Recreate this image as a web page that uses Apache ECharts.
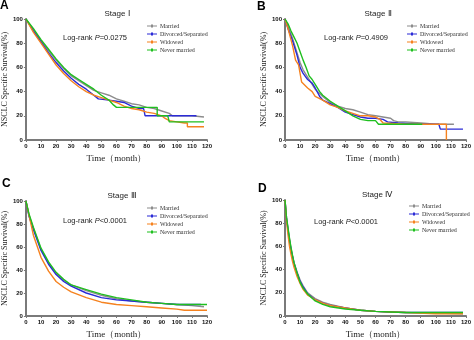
<!DOCTYPE html>
<html>
<head>
<meta charset="utf-8">
<script src="https://cdn.jsdelivr.net/npm/echarts@6/dist/echarts.min.js"></script>
<style>html,body{margin:0;padding:0;background:#fff}#c{width:474px;height:340px}</style>
</head>
<body>
<div id="c"></div>
<script>
var groups = ['Married', 'Divorced/Separated', 'Widowed', 'Never married'];
var stages = ['Stage Ⅰ', 'Stage Ⅱ', 'Stage Ⅲ', 'Stage Ⅳ'];
var pValues = ['P=0.0275', 'P=0.4909', 'P<0.0001', 'P<0.0001'];
var panelLetters = ['A', 'B', 'C', 'D'];
var xTicks = [0, 10, 20, 30, 40, 50, 60, 70, 80, 90, 100, 110, 120];
var yTicks = [0, 20, 40, 60, 80, 100];

// Stage I
var s1Married = [[0,100],[5,91],[10,82],[15,74],[20,66],[25,59],[30,53],[35,49],[40,45],[45,41],[50,39],[55,37],[60,34],[65,32],[70,30],[75,29],[80,27],[85,26],[90,24],[95,22],[97,20],[105,20],[110,20],[118,19]];
var s1Divorced = [[0,100],[5,90],[10,81],[15,72],[20,64],[25,57],[30,51],[35,46],[40,42],[45,37],[48,34],[55,33],[60,32],[65,31],[70,28],[75,26],[78,26],[79,20],[113,20]];
var s1Widowed = [[0,100],[5,89],[10,80],[15,71],[20,62],[25,55],[30,49],[35,44],[40,40],[45,37],[50,35],[55,33],[60,31],[65,28],[70,26],[75,25],[80,23],[85,22],[90,20],[92,18],[95,16],[100,15],[105,14],[107,14],[107,11],[118,11]];
var s1Never = [[0,100],[5,92],[10,83],[15,75],[20,67],[25,60],[30,54],[35,50],[40,46],[45,42],[50,37],[55,33],[58,29],[60,27],[70,27],[80,27],[87,27],[87,20],[94,20],[95,15],[118,15]];

// Stage II
var s2Married = [[0,100],[2,94],[5,84],[8,72],[10,64],[12,58],[15,52],[18,46],[20,42],[25,36],[30,31],[35,28],[40,26],[45,25],[50,23],[55,21],[60,20],[65,19],[70,18],[72,16],[75,15],[80,15],[90,14],[100,13],[112,13]];
var s2Divorced = [[0,100],[2,92],[5,82],[8,70],[10,60],[12,55],[15,50],[18,47],[20,43],[23,36],[25,33],[30,30],[35,27],[40,23],[45,21],[50,19],[55,18],[60,18],[65,17],[68,15],[75,14],[90,13],[102,13],[103,9],[118,9]];
var s2Widowed = [[0,100],[2,92],[5,78],[7,66],[9,62],[11,48],[15,43],[18,40],[20,36],[25,33],[30,29],[35,27],[40,24],[45,22],[50,20],[55,20],[60,19],[63,17],[65,14],[80,13],[100,13],[107,13],[107,0]];
var s2Never = [[0,100],[2,96],[4,90],[6,85],[8,80],[10,73],[12,66],[14,60],[16,53],[18,50],[20,46],[23,40],[25,37],[30,32],[35,28],[40,24],[45,20],[50,17],[55,16],[60,16],[62,13],[80,13],[91,13]];

// Stage III
var s3Married = [[0,100],[2,88],[5,76],[10,58],[15,46],[20,37],[25,31],[30,27],[40,22],[50,18],[60,15],[70,13],[80,12],[90,11],[100,10],[110,9],[118,8]];
var s3Divorced = [[0,100],[2,87],[5,75],[10,57],[15,45],[20,36],[25,30],[30,26],[40,20],[50,16],[60,14],[70,13],[80,12],[90,11],[100,10],[110,10],[116,10]];
var s3Widowed = [[0,100],[3,82],[5,70],[10,51],[15,39],[20,30],[25,25],[30,21],[40,16],[50,12],[60,10],[70,9],[80,8],[90,7],[100,6],[105,5],[120,5]];
var s3Never = [[0,100],[2,89],[5,77],[10,59],[15,47],[20,38],[25,32],[30,27],[40,23],[50,19],[60,16],[70,14],[80,12],[90,11],[100,10],[110,10],[120,10]];

// Stage IV
var s4Married = [[0,100],[1,85],[2,75],[3,66],[4,58],[5,52],[6,46],[8,38],[10,31],[12,26],[15,20],[20,15],[25,12],[30,10],[40,7],[50,5],[60,4],[70,3.5],[80,3],[100,2.5],[118,2]];
var s4Divorced = [[0,100],[1,84],[2,74],[3,65],[4,57],[5,51],[6,45],[8,37],[10,30],[12,25],[15,19],[20,14],[25,11],[30,9],[40,7],[50,5],[60,4],[70,3.5],[80,3],[100,3],[118,3]];
var s4Widowed = [[0,100],[1,82],[2,70],[3,60],[4,53],[5,47],[6,42],[8,34],[10,28],[12,23],[15,18],[20,14],[25,11],[30,9],[40,7],[50,5],[60,4],[80,3],[100,2],[118,2]];
var s4Never = [[0,100],[1,85],[2,76],[3,67],[4,59],[5,52],[6,46],[8,37],[10,29],[12,24],[15,19],[20,13],[25,10],[30,8],[40,6],[50,5],[60,4],[70,3.5],[80,3],[100,3],[118,3]];

var stageData = [
  [s1Married, s1Divorced, s1Widowed, s1Never],
  [s2Married, s2Divorced, s2Widowed, s2Never],
  [s3Married, s3Divorced, s3Widowed, s3Never],
  [s4Married, s4Divorced, s4Widowed, s4Never]
];

var colors = ['#8c8c8c', '#2b2bd6', '#f5821f', '#1fbf1f'];
var grids = [
  {left: 23, top: 19, width: 184, height: 121},
  {left: 285, top: 19, width: 183, height: 121},
  {left: 23, top: 201, width: 184, height: 121},
  {left: 285, top: 200, width: 182, height: 121}
];
var titlePos = [[117, 10], [378, 10], [122, 192], [377, 191]];
var legendPos = [[147, 23], [407, 23], [147, 205], [409, 203]];
var pPos = [[63, 39], [324, 39], [63, 222], [314, 223]];
var letterPos = [[0, 0], [257, 1], [2, 178], [258, 183]];

var serif = '"Liberation Serif","DejaVu Serif",serif';
var sans = '"Liberation Sans",Arial,sans-serif';
var legendIcon = 'path://M0,1 L4,1 L4,0 L6,0 L6,1 L10,1 L10,2 L6,2 L6,3 L4,3 L4,2 L0,2 Z';

var option = {
  animation: false,
  backgroundColor: '#fff',
  color: colors,
  grid: grids.map(function(g){ return Object.assign({containLabel: false}, g); }),
  xAxis: grids.map(function(g, i){
    return {
      type: 'value', gridIndex: i, min: 0, max: 120, interval: 10,
      name: 'Time（month）', nameLocation: 'middle', nameGap: 14,
      nameTextStyle: {fontFamily: serif, fontSize: 9, color: '#222'},
      axisLine: {show: true, onZero: false, lineStyle: {color: '#7a7a7a', width: 2}},
      axisTick: {show: true, length: 2, lineStyle: {color: '#7a7a7a', width: 1}},
      axisLabel: {fontSize: 6, fontWeight: 'bold', color: '#111', margin: 3, fontFamily: sans},
      splitLine: {show: false}
    };
  }),
  yAxis: grids.map(function(g, i){
    return {
      type: 'value', gridIndex: i, min: 0, max: 100, interval: 20,
      name: 'NSCLC Specific Survival(%)', nameLocation: 'middle', nameGap: 16,
      nameTextStyle: {fontFamily: serif, fontSize: 8, color: '#222'},
      axisLine: {show: true, onZero: false, lineStyle: {color: '#7a7a7a', width: 2}},
      axisTick: {show: true, length: 2, lineStyle: {color: '#7a7a7a', width: 1}},
      axisLabel: {fontSize: 6, fontWeight: 'bold', color: '#111', margin: 3, fontFamily: sans},
      splitLine: {show: false}
    };
  }),
  title: stages.map(function(s, i){
    return {text: s, left: titlePos[i][0], top: titlePos[i][1], textAlign: 'center', padding: 0,
      textStyle: {fontSize: 8, fontWeight: 'normal', fontFamily: sans, color: '#222'}};
  }),
  legend: legendPos.map(function(p){
    return {data: groups, orient: 'vertical', left: p[0], top: p[1], padding: 0,
      itemWidth: 10, itemHeight: 7, itemGap: 2, icon: legendIcon,
      textStyle: {fontFamily: serif, fontSize: 6, color: '#333', padding: [0,0,0,-2]}};
  }),
  graphic: [],
  series: []
};

for (var i = 0; i < 4; i++) {
  for (var k = 0; k < 4; k++) {
    option.series.push({
      type: 'line', name: groups[k], xAxisIndex: i, yAxisIndex: i,
      data: stageData[i][k], showSymbol: false, symbol: 'none',
      lineStyle: {width: 1.4, color: colors[k]}, itemStyle: {color: colors[k]},
      z: k === 3 ? 5 : 3
    });
  }
  option.graphic.push({
    type: 'text', left: pPos[i][0], top: pPos[i][1] - 5,
    style: {
      text: '{n|Log-rank }{i|' + pValues[i].charAt(0) + '}{n|' + pValues[i].slice(1) + '}',
      rich: {
        n: {fontSize: 7.5, fontFamily: sans, fill: '#222'},
        i: {fontSize: 7.5, fontFamily: sans, fontStyle: 'italic', fill: '#222'}
      }
    }
  });
  option.graphic.push({
    type: 'text', left: letterPos[i][0], top: letterPos[i][1],
    style: {text: panelLetters[i], fontSize: 12, fontWeight: 'bold', fontFamily: sans, fill: '#000'}
  });
}

var chart = echarts.init(document.getElementById('c'), null, {renderer: 'canvas'});
chart.setOption(option);
</script>
</body>
</html>
